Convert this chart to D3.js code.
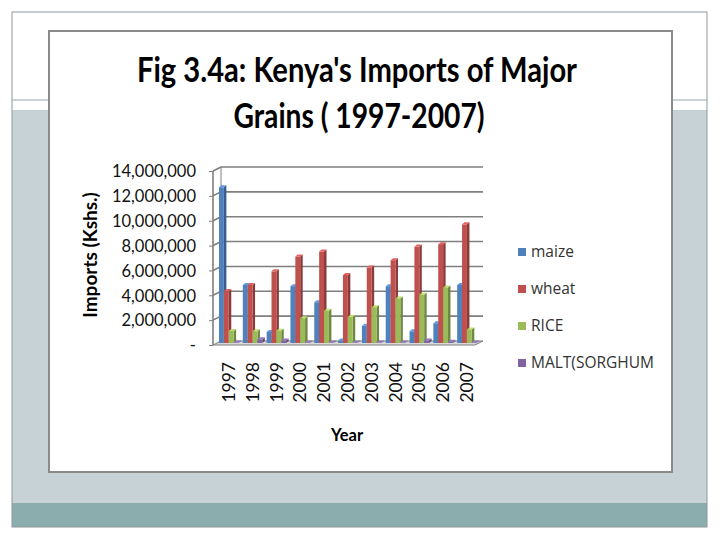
<!DOCTYPE html>
<html>
<head>
<meta charset="utf-8">
<script src="https://cdn.jsdelivr.net/npm/d3@7"></script>
<style>
  body { margin: 0; background: #fff; }
  svg text { font-family: Lato, "Open Sans", sans-serif; }
</style>
</head>
<body>
<div id="chart"></div>
<script>
const YEARS = ["1997", "1998", "1999", "2000", "2001", "2002", "2003", "2004", "2005", "2006", "2007"];
const MAIZE = [12600000, 4700000, 900000, 4600000, 3300000, 200000, 1400000, 4600000, 950000, 1600000, 4700000];
const WHEAT = [4200000, 4700000, 5800000, 7000000, 7400000, 5500000, 6100000, 6700000, 7800000, 8000000, 9600000];
const RICE = [970000, 950000, 1000000, 2000000, 2600000, 2100000, 2900000, 3600000, 3900000, 4500000, 1100000];
const MALT = [50000, 300000, 200000, 50000, 50000, 50000, 50000, 50000, 200000, 100000, 50000];
const SERIES_NAMES = ["maize", "wheat", "RICE", "MALT(SORGHUM"];
const Y_TICKS = [0, 2000000, 4000000, 6000000, 8000000, 10000000, 12000000, 14000000];

const COLORS = ["#4f81bd", "#c0504d", "#9bbb59", "#8064a2"];
const SERIES = [MAIZE, WHEAT, RICE, MALT];

const W = 720, H = 540;
const svg = d3.select("#chart").append("svg")
    .attr("width", W)
    .attr("height", H);

// slide background
svg.append("rect").attr("x", 12).attr("y", 110).attr("width", 695).attr("height", 393).attr("fill", "#c7d2d7");
svg.append("rect").attr("x", 12).attr("y", 503).attr("width", 695).attr("height", 24).attr("fill", "#8badad");
svg.append("line").attr("x1", 12).attr("x2", 707).attr("y1", 100).attr("y2", 100).attr("stroke", "#9aa6aa").attr("stroke-width", 1);
svg.append("rect").attr("x", 12).attr("y", 12).attr("width", 695).attr("height", 515)
    .attr("fill", "none").attr("stroke", "#8e9a9e").attr("stroke-width", 1);

// chart panel
svg.append("rect").attr("x", 49).attr("y", 31).attr("width", 623).attr("height", 441)
    .attr("fill", "#fff").attr("stroke", "#8a8a8a").attr("stroke-width", 2);

// title
const title = svg.append("g").attr("font-weight", "bold").attr("font-size", 34).attr("fill", "#000");
title.append("text").attr("x", 357).attr("y", 82).attr("text-anchor", "middle")
    .attr("textLength", 440).attr("lengthAdjust", "spacingAndGlyphs")
    .text("Fig 3.4a: Kenya's Imports of Major");
title.append("text").attr("x", 359).attr("y", 128).attr("text-anchor", "middle")
    .attr("textLength", 251).attr("lengthAdjust", "spacingAndGlyphs")
    .text("Grains ( 1997-2007)");

// scales
const x = d3.scaleBand().domain(YEARS).range([217, 479]).padding(0);
const xs = d3.scaleBand().domain(d3.range(4)).range([2, 21.5]).padding(0);
const yFront = d3.scaleLinear().domain([0, 14000000]).range([345, 171]);
const yBar = d3.scaleLinear().domain([0, 14000000]).range([343, 170]);
const DX = 8, DY = 4;   // wall depth
const axisX = 213, rightX = 475;

// floor
svg.append("polygon")
    .attr("points", [[axisX, yFront(0)], [rightX, yFront(0)], [rightX + DX, yFront(0) - DY], [axisX + DX, yFront(0) - DY]].join(" "))
    .attr("fill", "#d9d9d9").attr("stroke", "#7f7f7f").attr("stroke-width", 1);

// gridlines on side and back walls
const grid = svg.append("g").attr("stroke", "#7f7f7f").attr("stroke-width", 1.6).attr("fill", "none");
grid.selectAll("path").data(Y_TICKS.slice(1)).join("path")
    .attr("d", d => `M${axisX},${yFront(d)}L${axisX + DX},${yFront(d) - DY}L${rightX + DX},${yFront(d) - DY}`);
grid.append("line").attr("x1", axisX).attr("x2", axisX).attr("y1", yFront(14000000)).attr("y2", yFront(0));
grid.append("line").attr("x1", axisX + DX).attr("x2", axisX + DX).attr("y1", yFront(14000000) - DY).attr("y2", yFront(0) - DY).attr("stroke-width", 1);

// y axis ticks and labels
const yAxis = svg.append("g").attr("transform", `translate(${axisX},0)`)
    .call(d3.axisLeft(yFront).tickValues(Y_TICKS).tickSize(4).tickPadding(13)
        .tickFormat(d => d === 0 ? "-" : d3.format(",")(d)));
yAxis.select(".domain").remove();
yAxis.selectAll("line").attr("stroke", "#7f7f7f");
yAxis.selectAll("text").attr("font-size", 16.5).attr("fill", "#111")
    .style("font-family", "Lato, sans-serif").attr("dy", "0.35em");

// 3D bars
function shade(c, k) { return d3.color(c).darker(k).formatHex(); }
const bd = 2.5, bdy = 2;
const base = yBar(0);
const barsG = svg.append("g");
SERIES.forEach((vals, si) => {
    const g = barsG.append("g");
    const w = xs.bandwidth();
    YEARS.forEach((yr, i) => {
        const x0 = x(yr) + xs(si);
        const top = yBar(vals[i]);
        g.append("polygon")
            .attr("points", [[x0 + w, top], [x0 + w + bd, top - bdy], [x0 + w + bd, base - bdy], [x0 + w, base]].join(" "))
            .attr("fill", shade(COLORS[si], 0.9));
        g.append("rect").attr("x", x0).attr("y", top).attr("width", w).attr("height", base - top)
            .attr("fill", COLORS[si]);
        g.append("polygon")
            .attr("points", [[x0, top], [x0 + bd, top - bdy], [x0 + w + bd, top - bdy], [x0 + w, top]].join(" "))
            .attr("fill", d3.color(COLORS[si]).brighter(0.5).formatHex());
    });
});

// x labels
svg.append("g").selectAll("text").data(YEARS).join("text")
    .attr("transform", d => `translate(${x(d) + x.bandwidth() / 2 + 6},362) rotate(-90)`)
    .attr("text-anchor", "end")
    .attr("font-size", 17.5)
    .attr("fill", "#111")
    .text(d => d);

// axis titles
svg.append("text").attr("transform", "translate(97,255) rotate(-90)")
    .attr("text-anchor", "middle").attr("font-weight", "bold").attr("font-size", 19)
    .text("Imports (Kshs.)");
svg.append("text").attr("x", 347).attr("y", 441).attr("text-anchor", "middle")
    .attr("font-weight", "bold").attr("font-size", 16.5).text("Year");

// legend
const legend = svg.append("g").attr("transform", "translate(518,252)");
const li = legend.selectAll("g").data(SERIES_NAMES).join("g")
    .attr("transform", (d, i) => `translate(0,${i * 37})`);
li.append("rect").attr("x", 0).attr("y", -4).attr("width", 8).attr("height", 8)
    .attr("fill", (d, i) => COLORS[i]);
li.append("text").attr("x", 13).attr("y", 0).attr("dy", "0.35em")
    .style("font-family", "'Open Sans', sans-serif").attr("font-size", 15.5).attr("fill", "#333")
    .text(d => d);
</script>
</body>
</html>
